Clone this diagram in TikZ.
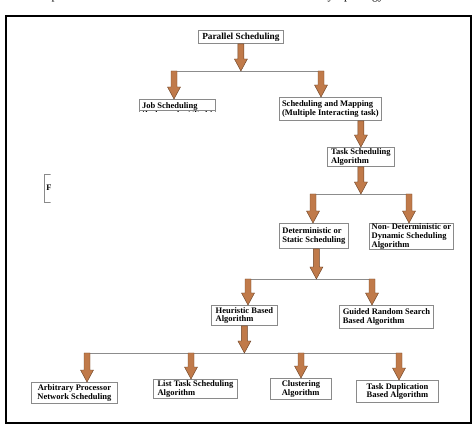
\documentclass[tikz,border=0pt]{standalone}
\usepackage{fontspec}
\setmainfont{Liberation Serif}
\usetikzlibrary{calc}
\definecolor{boxgray}{HTML}{8A8A8A}
\definecolor{bargray}{HTML}{8C8C8C}
\definecolor{arrowfill}{HTML}{C07A4A}
\definecolor{arrowedge}{HTML}{6E4528}
\newcommand\blkarrow[2]{%
  \filldraw[arrowst] let \p1=(#1), \p2=(#2) in
   (\x1-3pt,\y1) -- (\x1+3pt,\y1) -- (\x1+3pt,\y2+12pt) -- (\x1+6.5pt,\y2+12pt)
   -- (\x1,\y2) -- (\x1-6.5pt,\y2+12pt) -- (\x1-3pt,\y2+12pt) -- cycle;}
\tikzset{
  box/.style={draw=boxgray, line width=0.8pt, fill=white, inner xsep=1.5pt, inner ysep=0.5pt,
    font=\fontsize{8.5}{8.6}\bfseries\selectfont, align=left, anchor=north west},
  arrowst/.style={fill=arrowfill, draw=arrowedge, line width=0.45pt},
  bar/.style={draw=bargray, line width=0.9pt},
  capfrag/.style={font=\fontsize{12}{14}\selectfont, anchor=base, inner sep=0pt},
}
\begin{document}
\begin{tikzpicture}[x=1pt,y=-1pt]
\useasboundingbox (0,0) rectangle (474,438);
% caption fragments (cut off at the top)
\node[capfrag] (cap1) at (54.5,-0.6) {p};
\node[capfrag] (cap2) at (330.5,-0.6) {y};
\node[capfrag] (cap3) at (347,-0.6) {p};
\node[capfrag] (cap4) at (378,-0.6) {gy};
% frame
\node[draw=black, line width=2pt, minimum width=465pt, minimum height=407pt, anchor=north west, inner sep=0pt] (frame) at (5,15) {};
% boxes
\node[box, minimum width=85pt, minimum height=13pt, align=center, font=\fontsize{9.3}{10}\bfseries\selectfont] (ps) at (198,30) {Parallel Scheduling};
\begin{scope}
  \clip (137,97) rectangle (217,111.4);
  \node[box, minimum width=76pt, minimum height=22pt, inner ysep=1.2pt] (job) at (139,99) {Job Scheduling\\(Independent Task)};
\end{scope}
\draw[draw=boxgray, line width=0.8pt] ($(job.north west)+(0,11.5)$) -- ($(job.north east)+(0,11.5)$);
\node[box, minimum width=102pt, minimum height=23pt] (sm) at (279,97) {Scheduling and Mapping\\(Multiple Interacting task)};
\node[box, minimum width=67pt, minimum height=19pt] (task) at (327,147) {Task Scheduling\\Algorithm};
\node[box, minimum width=69pt, minimum height=25pt] (det) at (279,223) {Deterministic or\\Static Scheduling};
\node[box, minimum width=84pt, minimum height=26pt, inner ysep=0pt] (nondet) at (369,223) {Non- Deterministic or\\Dynamic Scheduling\\Algorithm};
\node[box, minimum width=66pt, minimum height=20pt] (heur) at (211,305) {Heuristic Based\\Algorithm};
\node[box, minimum width=94pt, minimum height=23pt] (guided) at (339,305) {Guided Random Search\\Based Algorithm};
\node[box, minimum width=86pt, minimum height=21pt, align=center] (arb) at (31,382) {Arbitrary Processor\\Network Scheduling};
\node[box, minimum width=84pt, minimum height=19pt] (list) at (153,379) {List Task Scheduling\\Algorithm};
\node[box, minimum width=61pt, minimum height=21pt] (clust) at (270,378) {Clustering\\Algorithm};
\node[box, minimum width=82pt, minimum height=22pt, align=center] (dup) at (356,380) {Task Duplication\\Based Algorithm};
% small clipped box on the left
\begin{scope}
  \clip (42,172) rectangle (50.5,204);
  \node[box, minimum height=28pt, text width=36pt, inner xsep=2.5pt, align=left] (fig) at (43.5,174) {Fig};
\end{scope}
% bars
\coordinate (b1l) at (174,71);
\coordinate (b1r) at (321,71);
\coordinate (b2l) at (313,194);
\coordinate (b2r) at (409,194);
\coordinate (b3l) at (248,279);
\coordinate (b3r) at (372,279);
\coordinate (b4a) at (87,353);
\coordinate (b4b) at (191,353);
\coordinate (b4c) at (301,353);
\coordinate (b4d) at (399,353);
\coordinate (detout) at ($(det.south)+(2.5,0)$);
\draw[bar] (b1l) -- (b1r);
\draw[bar] (b2l) -- (b2r);
\draw[bar] (b3l) -- (b3r);
\draw[bar] (b4a) -- (b4d);
% arrows
\blkarrow{ps.south}{ps.south |- b1l}
\blkarrow{b1l}{b1l |- job.north}
\blkarrow{b1r}{b1r |- sm.north}
\blkarrow{task.north |- sm.south}{task.north}
\blkarrow{task.south}{task.south |- b2l}
\blkarrow{b2l}{b2l |- det.north}
\blkarrow{b2r}{b2r |- nondet.north}
\blkarrow{detout}{detout |- b3l}
\blkarrow{b3l}{b3l |- heur.north}
\blkarrow{b3r}{b3r |- guided.north}
\blkarrow{heur.south}{heur.south |- b4a}
\blkarrow{b4a}{b4a |- arb.north}
\blkarrow{b4b}{b4b |- list.north}
\blkarrow{b4c}{b4c |- clust.north}
\blkarrow{b4d}{b4d |- dup.north}
\end{tikzpicture}
\end{document}
